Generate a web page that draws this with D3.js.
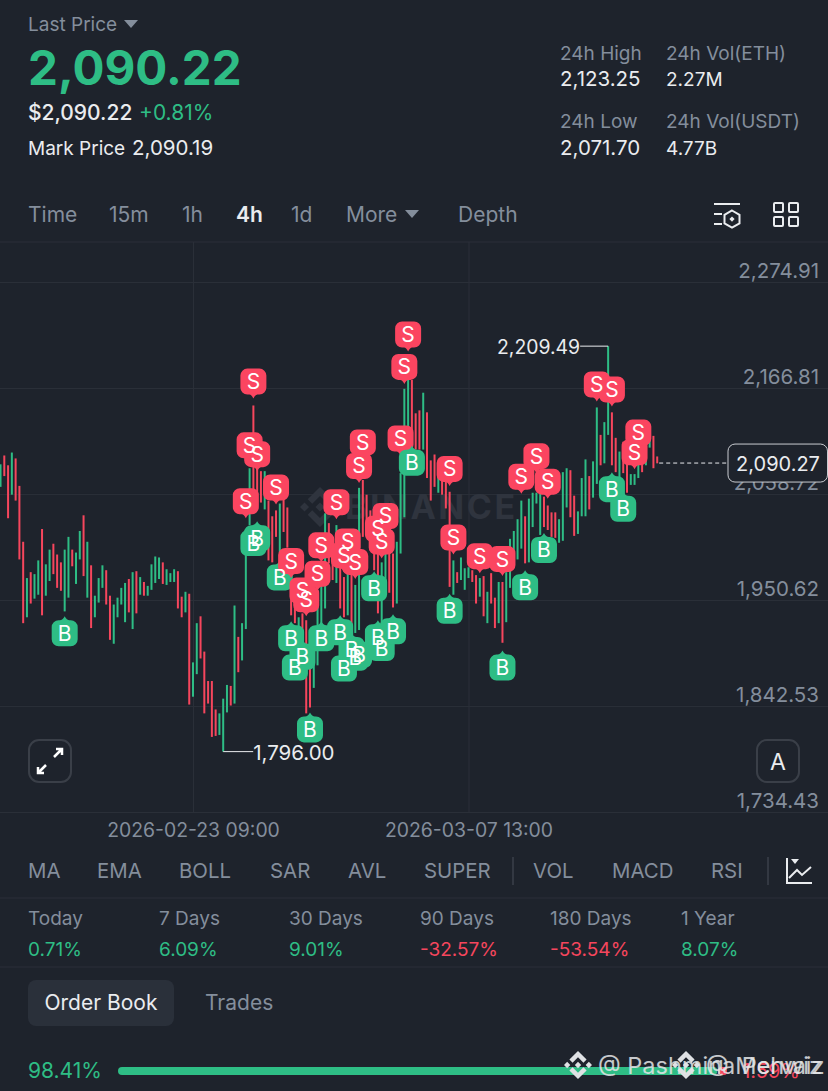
<!DOCTYPE html>
<html lang="en">
  <head>
    <meta charset="UTF-8" />
    <title>ETH/USDT 4h chart</title>
    <script src="https://d3js.org/d3.v7.min.js"></script>
    <style>
      html, body { margin: 0; padding: 0; background: #1e232c; overflow: hidden; }
      svg { display: block; }
      text { font-family: Inter, "Open Sans", sans-serif; }
      .axis .domain { display: none; }
    </style>
  </head>
  <body>
    <div id="chart"></div>
    <script>
      // candle extents, one entry per 4h candle
      const highs = [
        2089, 2098, 2088, 2101, 2095, 2067, 2010, 1973, 1979, 1977, 1991, 2023, 1987, 2002, 2008, 1997, 1989, 2002, 2015, 2002,
        1999, 2021, 2037, 2010, 1986, 1955, 1973, 1986, 1981, 1955, 1946, 1953, 1963, 1968, 1972, 1979, 1980, 1974, 1969, 1965,
        1987, 1995, 1994, 1989, 1982, 1978, 1982, 1980, 1954, 1959, 1957, 1887, 1927, 1934, 1898, 1868, 1868, 1839, 1835, 1850,
        1864, 1863, 1945, 1913, 1927, 2012, 2085, 2149, 2103, 2082, 2082, 2052, 2036, 2042, 2049, 2060, 2045, 1988, 1947, 1933,
        1937, 1930, 1907, 1899, 1961, 1968, 2039, 2029, 1998, 2027, 1994, 1974, 1981, 1978, 1966, 2065, 2073, 2058, 2042, 1998,
        1998, 1989, 1998, 1998, 1998, 2010, 2080, 2166, 2175, 2175, 2141, 2144, 2162, 2142, 2093, 2099, 2080, 2073, 2073, 2061,
        1991, 1979, 1994, 1983, 1984, 1981, 1976, 1973, 1975, 1959, 1978, 1953, 1969, 1969, 1979, 2013, 2021, 2033, 2052, 2036,
        2054, 2060, 2060, 2060, 2056, 2047, 2040, 2040, 2033, 2081, 2085, 2083, 2057, 2041, 2075, 2094, 2077, 2092, 2147, 2119,
        2132, 2209.49, 2142, 2116, 2102, 2112, 2090, 2079, 2079, 2090, 2107, 2124, 2114, 2118, 2097,
      ];
      const lows = [
        2066, 2077, 2034, 2058, 2052, 1992, 1927, 1933, 1947, 1952, 1956, 1935, 1955, 1970, 1977, 1963, 1960, 1939, 1953, 1985,
        1967, 1992, 1975, 1953, 1922, 1933, 1948, 1963, 1946, 1910, 1906, 1933, 1946, 1928, 1938, 1921, 1937, 1956, 1955, 1955,
        1961, 1968, 1972, 1967, 1966, 1969, 1969, 1942, 1933, 1938, 1844, 1852, 1875, 1891, 1835, 1845, 1811, 1812, 1813, 1796,
        1836, 1843, 1845, 1877, 1889, 1921, 2027, 2045, 2047, 2050, 2043, 1991, 1989, 2015, 1999, 2020, 2004, 1935, 1927, 1903,
        1889, 1835, 1841, 1861, 1884, 1917, 1942, 1988, 1971, 1968, 1942, 1933, 1935, 1925, 1917, 1920, 2015, 2022, 2001, 1981,
        1937, 1927, 1958, 1958, 1943, 1947, 1998, 2035, 2127, 2111, 2104, 2104, 2104, 2075, 2052, 2066, 2060, 2058, 2044, 1964,
        1956, 1968, 1971, 1961, 1973, 1969, 1947, 1954, 1934, 1927, 1947, 1922, 1927, 1907, 1928, 1963, 1991, 1992, 2003, 1988,
        1989, 2025, 2049, 2017, 2025, 2022, 2015, 2014, 2009, 2011, 2045, 2035, 2016, 2018, 2036, 2036, 2043, 2055, 2069, 2088,
        2090, 2119, 2088, 2081, 2076, 2080, 2060, 2068, 2068, 2075, 2081, 2088, 2106, 2085, 2090,
      ];
      const upFlags = [
        1, 0, 0, 1, 0, 0, 0, 1, 0, 1, 1, 0, 1, 1, 0, 0, 0, 1, 1, 0,
        1, 1, 0, 1, 0, 1, 1, 1, 0, 0, 1, 1, 1, 1, 0, 1, 0, 1, 0, 1,
        1, 1, 1, 0, 1, 1, 1, 0, 0, 1, 0, 1, 1, 0, 0, 0, 0, 0, 1, 1,
        1, 0, 1, 0, 1, 1, 1, 0, 0, 0, 1, 0, 0, 0, 1, 0, 0, 0, 0, 1,
        0, 0, 0, 1, 1, 1, 1, 0, 0, 1, 0, 0, 1, 0, 1, 1, 0, 0, 0, 0,
        0, 1, 1, 0, 0, 1, 1, 1, 1, 0, 0, 0, 1, 0, 0, 0, 1, 0, 0, 0,
        1, 0, 1, 1, 1, 0, 0, 1, 0, 1, 0, 0, 1, 0, 1, 1, 1, 1, 1, 0,
        1, 1, 1, 1, 0, 0, 0, 0, 1, 1, 1, 0, 0, 1, 1, 1, 0, 1, 1, 0,
        1, 1, 0, 0, 1, 0, 0, 1, 1, 1, 0, 1, 1, 0, 0,
      ];

      // buy / sell markers: candle number and the price the pin points at
      const sellCandles = [108, 107, 67, 66, 68, 65, 73, 89, 96, 95, 106, 119, 120, 102, 100, 101, 92, 91, 94, 85, 77, 84, 80, 81, 158, 162, 169, 168, 142, 138, 145, 127, 133];
      const sellPrices = [2204, 2171, 2156, 2091, 2082, 2034, 2048, 2033, 2094, 2070, 2098, 2067, 1997, 2019, 2006, 1993, 1993, 1979, 1972, 1989, 1973, 1960, 1943, 1934, 2153, 2148, 2104, 2084, 2080, 2059, 2054, 1978, 1975];
      const buyCandles = [17, 67, 68, 74, 77, 78, 80, 85, 90, 91, 93, 94, 95, 100, 101, 104, 99, 109, 119, 82, 133, 139, 144, 162, 165];
      const buyPrices = [1934, 2026, 2031, 1991, 1929, 1899, 1910, 1929, 1935, 1898, 1917, 1909, 1912, 1930, 1919, 1936, 1980, 2108, 1957, 1836, 1899, 1981, 2019, 2081, 2061];

      const priceTicks = [2274.91, 2166.81, 2058.72, 1950.62, 1842.53, 1734.43];
      const timeTicks = ["2026-02-23T09:00:00Z", "2026-03-07T13:00:00Z"].map((d) => new Date(d));
      const firstCandle = new Date("2026-02-14T21:00:00Z");
      const lastPrice = 2090.27;

      const rangeTabs = ["Time", "15m", "1h", "4h", "1d", "More", "Depth"];
      const indicators = ["MA", "EMA", "BOLL", "SAR", "AVL", "SUPER", "VOL", "MACD", "RSI"];
      const periods = ["Today", "7 Days", "30 Days", "90 Days", "180 Days", "1 Year"];
      const periodChanges = [0.71, 6.09, 9.01, -32.57, -53.54, 8.07];
      const bookShares = [98.41, 1.59];

      const BG = "#1e232c";
      const GREEN = "#2ebd85";
      const RED = "#f6465d";
      const GREY = "#848e9c";
      const WHITE = "#eaecef";
      const GRID = "#2a2f38";
      const LOGO =
        "M38.73 53.2l24.59-24.58 24.6 24.6 14.3-14.31L63.32 0 24.43 38.88l14.3 14.31zM0 63.31l14.3-14.31 14.31 14.31-14.31 14.3zM38.73 73.41l24.59 24.59 24.6-24.6 14.31 14.29-38.9 38.91-38.91-38.88v-.03l14.31-14.28zM97.99 63.31l14.31-14.31 14.3 14.31-14.3 14.3zM77.83 63.3L63.32 48.78 52.59 59.51l-1.24 1.23-2.54 2.54 14.51 14.5 14.51-14.47z";

      const width = 828;
      const height = 1091;

      const svg = d3
        .select("#chart")
        .append("svg")
        .attr("width", width)
        .attr("height", height);

      function label(parent, x, y, str, size, fill, opts = {}) {
        return parent
          .append("text")
          .attr("x", x)
          .attr("y", y)
          .attr("font-size", size)
          .attr("font-weight", opts.weight || 400)
          .attr("text-anchor", opts.anchor || "start")
          .attr("fill", fill)
          .text(str);
      }

      function logo(parent, cx, cy, size, fill, opacity = 1) {
        const k = size / 126.61;
        parent
          .append("path")
          .attr("d", LOGO)
          .attr("fill", fill)
          .attr("opacity", opacity)
          .attr("transform", `translate(${cx - size / 2},${cy - size / 2}) scale(${k})`);
      }

      // header
      label(svg, 28, 31, "Last Price", 19, GREY);
      svg.append("path").attr("d", "M124 20h14l-7 8z").attr("fill", GREY);
      label(svg, 28, 85, "2,090.22", 47.5, GREEN, { weight: 700 });
      label(svg, 28, 120, "$2,090.22", 21, WHITE, { weight: 500 });
      label(svg, 139, 120, "+0.81%", 21, GREEN);
      label(svg, 28, 155, "Mark Price", 19, WHITE);
      label(svg, 132, 155, "2,090.19", 20.5, WHITE);

      label(svg, 560, 60, "24h High", 19, GREY);
      label(svg, 560, 86, "2,123.25", 20.5, WHITE);
      label(svg, 666, 60, "24h Vol(ETH)", 19, GREY);
      label(svg, 666, 86, "2.27M", 19, WHITE);
      label(svg, 560, 128, "24h Low", 19, GREY);
      label(svg, 560, 155, "2,071.70", 20.5, WHITE);
      label(svg, 666, 128, "24h Vol(USDT)", 19, GREY);
      label(svg, 666, 155, "4.77B", 19, WHITE);

      // range tabs
      const tabX = [28, 109, 182, 236, 291, 346, 458];
      rangeTabs.forEach((t, i) => {
        label(svg, tabX[i], 222, t, 21, t === "4h" ? WHITE : GREY, { weight: t === "4h" ? 600 : 400 });
      });
      svg.append("path").attr("d", "M405 210h14l-7 8z").attr("fill", GREY);

      const icons = svg.append("g").attr("fill", "none").attr("stroke", WHITE).attr("stroke-width", 2);
      icons.append("path").attr("d", "M714 204H740M714 214h8M714 224h8");
      icons.append("path").attr("d", "M732 210.5l7.5 4.3v8.6l-7.5 4.3-7.5-4.3v-8.6z");
      icons.append("path").attr("d", "M732 216.5l2.6 2.6-2.6 2.6-2.6-2.6z").attr("fill", WHITE).attr("stroke", "none");
      [[774, 203], [789, 203], [774, 217], [789, 217]].forEach(([a, b]) => {
        icons.append("rect").attr("x", a).attr("y", b).attr("width", 9).attr("height", 9).attr("rx", 1);
      });

      // chart scales
      const x = d3
        .scaleTime()
        .domain(timeTicks)
        .range([193, 468.5]);
      const y = d3
        .scaleLinear()
        .domain([2274.91, 1734.43])
        .range([282, 812]);

      const candleTime = (i) => d3.utcHour.offset(firstCandle, i * 4);

      svg.append("line").attr("x1", 0).attr("x2", width).attr("y1", 242).attr("y2", 242).attr("stroke", GRID);

      // grid comes from the axes
      const yAxis = svg
        .append("g")
        .attr("class", "axis")
        .attr("transform", `translate(${width},0)`)
        .call(
          d3
            .axisLeft(y)
            .tickValues(priceTicks)
            .tickSize(width)
            .tickFormat(d3.format(",.2f"))
        );
      yAxis.selectAll("line").attr("stroke", GRID);
      yAxis
        .selectAll("text")
        .attr("x", -9)
        .attr("y", -11)
        .attr("font-size", 20.5)
        .attr("font-family", "Inter")
        .attr("fill", GREY);

      const xAxis = svg
        .append("g")
        .attr("class", "axis")
        .attr("transform", "translate(0,812)")
        .call(
          d3
            .axisBottom(x)
            .tickValues(timeTicks)
            .tickSize(-570)
            .tickFormat(d3.utcFormat("%Y-%m-%d %H:%M"))
        );
      xAxis.selectAll("line").attr("stroke", GRID);
      xAxis
        .selectAll("text")
        .attr("y", 11)
        .attr("font-size", 19.4)
        .attr("font-family", "Inter")
        .attr("fill", GREY);

      // watermark sits behind the candles
      logo(svg, 320, 507, 40, "#2f343e");
      label(svg, 345, 519, "BINANCE", 34, "#2f343e", { weight: 700 }).attr("letter-spacing", 2.5);

      // candles
      svg
        .append("g")
        .selectAll("rect")
        .data(highs)
        .join("rect")
        .attr("x", (d, i) => x(candleTime(i)) - 1)
        .attr("width", 2)
        .attr("y", (d) => y(d))
        .attr("height", (d, i) => y(lows[i]) - y(d))
        .attr("fill", (d, i) => (upFlags[i] ? GREEN : RED));

      // max / min callouts
      const hiIdx = d3.greatestIndex(highs);
      const loIdx = d3.leastIndex(lows);
      svg
        .append("line")
        .attr("x1", x(candleTime(hiIdx)))
        .attr("x2", x(candleTime(hiIdx)) - 28)
        .attr("y1", y(highs[hiIdx]))
        .attr("y2", y(highs[hiIdx]))
        .attr("stroke", WHITE);
      label(svg, x(candleTime(hiIdx)) - 28, y(highs[hiIdx]) + 8, d3.format(",.2f")(highs[hiIdx]), 19.4, WHITE, { anchor: "end" });
      svg
        .append("line")
        .attr("x1", x(candleTime(loIdx)))
        .attr("x2", x(candleTime(loIdx)) + 30)
        .attr("y1", y(lows[loIdx]))
        .attr("y2", y(lows[loIdx]))
        .attr("stroke", WHITE);
      label(svg, x(candleTime(loIdx)) + 30, y(lows[loIdx]) + 8, d3.format(",.2f")(lows[loIdx]), 20.5, WHITE);

      // last price line and box
      svg
        .append("line")
        .attr("x1", x(candleTime(highs.length - 1)) + 2)
        .attr("x2", 728)
        .attr("y1", y(lastPrice))
        .attr("y2", y(lastPrice))
        .attr("stroke", WHITE)
        .attr("stroke-dasharray", "4 3");
      svg
        .append("rect")
        .attr("x", 728)
        .attr("y", y(lastPrice) - 19)
        .attr("width", 99.5)
        .attr("height", 38)
        .attr("rx", 7)
        .attr("fill", BG)
        .attr("stroke", "#c9ccd1");
      label(svg, 778, y(lastPrice) + 8, d3.format(",.2f")(lastPrice), 20, WHITE, { anchor: "middle" });

      // pins, fills first in time order, letters on top of all of them
      const marks = d3.sort(
        [
          ...sellCandles.map((c, i) => ({ c, p: sellPrices[i], kind: "S" })),
          ...buyCandles.map((c, i) => ({ c, p: buyPrices[i], kind: "B" })),
        ],
        (d) => d.c
      );

      function pin(cx, tip, dir, shoulder) {
        const near = tip + dir * 4;
        const far = tip + dir * 30;
        const r = 7;
        const p = d3.path();
        p.moveTo(cx, tip);
        p.quadraticCurveTo(cx + 2, near, cx + shoulder, near);
        p.lineTo(cx + 13 - r, near);
        p.arcTo(cx + 13, near, cx + 13, near + dir * r, r);
        p.lineTo(cx + 13, far - dir * r);
        p.arcTo(cx + 13, far, cx + 13 - r, far, r);
        p.lineTo(cx - 13 + r, far);
        p.arcTo(cx - 13, far, cx - 13, far - dir * r, r);
        p.lineTo(cx - 13, near + dir * r);
        p.arcTo(cx - 13, near, cx - 13 + r, near, r);
        p.lineTo(cx - shoulder, near);
        p.quadraticCurveTo(cx - 2, near, cx, tip);
        p.closePath();
        return p.toString();
      }

      svg
        .append("g")
        .selectAll("path")
        .data(marks)
        .join("path")
        .attr("d", (d) =>
          d.kind === "S"
            ? pin(x(candleTime(d.c)), y(d.p), -1, 4)
            : pin(x(candleTime(d.c)), y(d.p), 1, 5)
        )
        .attr("fill", (d) => (d.kind === "S" ? "#fb4560" : GREEN));
      svg
        .append("g")
        .selectAll("text")
        .data(marks)
        .join("text")
        .attr("x", (d) => x(candleTime(d.c)))
        .attr("y", (d) => y(d.p) + (d.kind === "S" ? -9.5 : 24.5))
        .attr("text-anchor", "middle")
        .attr("font-size", 21)
        .attr("fill", "#fff")
        .text((d) => d.kind);

      // chart buttons
      const btn = svg.append("g").attr("fill", "none").attr("stroke", "#3a3f48").attr("stroke-width", 2);
      btn.append("rect").attr("x", 29).attr("y", 740).attr("width", 42).attr("height", 42).attr("rx", 10);
      btn.append("rect").attr("x", 757).attr("y", 740).attr("width", 42).attr("height", 42).attr("rx", 10);
      svg
        .append("path")
        .attr("d", "M54 757l8-8M56 749h6v6M46 765l-8 8M38 767v6h6")
        .attr("fill", "none")
        .attr("stroke", "#fff")
        .attr("stroke-width", 2.5);
      label(svg, 778, 770, "A", 23, WHITE, { anchor: "middle" });

      // indicator row
      const indicatorX = [28, 97, 179, 270, 348, 424, 533, 612, 711];
      indicators.forEach((t, i) => label(svg, indicatorX[i], 878, t, 20.4, GREY));
      [513, 768].forEach((a) => {
        svg.append("line").attr("x1", a).attr("x2", a).attr("y1", 857).attr("y2", 885).attr("stroke", "#333842").attr("stroke-width", 2);
      });
      svg
        .append("path")
        .attr("d", "M787 858V883H812M789 878l8-8 5 5 9-8")
        .attr("fill", "none")
        .attr("stroke", WHITE)
        .attr("stroke-width", 2);
      svg.append("path").attr("d", "M791 859h8l-4 5z").attr("fill", WHITE);

      // period stats
      svg.append("line").attr("x1", 0).attr("x2", width).attr("y1", 898).attr("y2", 898).attr("stroke", GRID);
      svg.append("line").attr("x1", 0).attr("x2", width).attr("y1", 967).attr("y2", 967).attr("stroke", GRID);
      const periodX = [28, 159, 289, 420, 550, 681];
      periods.forEach((t, i) => {
        label(svg, periodX[i], 925, t, 19, GREY);
        label(svg, periodX[i], 956, periodChanges[i].toFixed(2) + "%", 19, periodChanges[i] < 0 ? RED : GREEN);
      });

      // order book
      svg.append("rect").attr("x", 28).attr("y", 980).attr("width", 146).attr("height", 46).attr("rx", 8).attr("fill", "#2a303a");
      label(svg, 101, 1010, "Order Book", 21, WHITE, { anchor: "middle" });
      label(svg, 205, 1010, "Trades", 21, GREY);

      const share = d3.scaleLinear().domain([0, 100]).range([118, 727]);
      label(svg, 28, 1078, bookShares[0].toFixed(2) + "%", 21, GREEN);
      svg.append("rect").attr("x", share(0)).attr("y", 1067).attr("width", share(bookShares[0]) - share(0)).attr("height", 8).attr("rx", 4).attr("fill", GREEN);
      svg.append("rect").attr("x", share(bookShares[0]) + 1).attr("y", 1067).attr("width", share(100) - share(bookShares[0]) - 1).attr("height", 8).attr("rx", 3).attr("fill", RED);
      label(svg, 800, 1078, bookShares[1].toFixed(2) + "%", 20, RED, { anchor: "end" });

      // repost credit laid over the bottom bar
      logo(svg, 578, 1065, 28, "#dfe1e4");
      logo(svg, 686, 1065, 28, "#dfe1e4");
      label(svg, 598, 1074, "@ Pashmina Pervaiz", 23.5, "#e4e6e8").attr("opacity", 0.85);
      label(svg, 706, 1074, "@ Mehwiz", 23.5, "#e4e6e8").attr("opacity", 0.85);
    </script>
  </body>
</html>
